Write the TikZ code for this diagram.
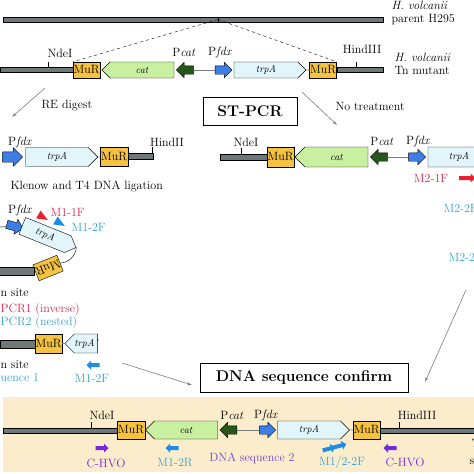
\documentclass[tikz,border=0pt]{standalone}
\usetikzlibrary{shapes,arrows,positioning}
\definecolor{chromgray}{RGB}{110,120,120}
\definecolor{murgold}{RGB}{245,195,65}
\definecolor{catgreen}{RGB}{200,240,160}
\definecolor{trpblue}{RGB}{225,245,250}
\definecolor{pcatgreen}{RGB}{40,85,25}
\definecolor{pfdxblue}{RGB}{60,125,230}
\definecolor{primred}{RGB}{235,30,45}
\definecolor{labred}{RGB}{210,40,80}
\definecolor{primblue}{RGB}{30,140,230}
\definecolor{labblue}{RGB}{50,160,210}
\definecolor{primpurple}{RGB}{120,40,220}
\definecolor{labpurple}{RGB}{120,60,200}
\definecolor{linegray}{RGB}{125,125,125}
\definecolor{panelbeige}{RGB}{251,237,203}
\tikzstyle{chrom} = [rectangle, draw, fill=chromgray, inner sep=0pt, minimum height=5pt]
\tikzstyle{mur} = [rectangle, draw, fill=murgold, inner sep=0pt, minimum width=27pt, minimum height=16pt]
\tikzstyle{gene} = [signal, draw, inner sep=0pt, minimum width=72pt, minimum height=16pt, font=\fontsize{10}{12}\selectfont\itshape]
\tikzstyle{prom} = [single arrow, draw, inner sep=4pt, single arrow head extend=3.5pt, minimum height=17pt]
\tikzstyle{primer} = [single arrow, inner sep=1.8pt, single arrow head extend=2.5pt, minimum height=13pt]
\tikzstyle{wedge} = [isosceles triangle, inner sep=0pt, minimum height=8pt, minimum width=9pt]
\tikzstyle{link} = [draw, linegray, line width=0.9pt]
\tikzstyle{line} = [draw, -latex', linegray, line width=0.6pt]
\tikzstyle{stepbox} = [rectangle, draw, font=\fontsize{15.5}{17}\selectfont\bfseries, inner xsep=8pt, minimum height=28pt]

\begin{document}
\begin{tikzpicture}[x=1pt, y=-1pt, font=\fontsize{12}{13.5}\selectfont]
  \useasboundingbox (0,0) rectangle (474,474);
  % Bottom panel
  \fill [panelbeige] (3,397) rectangle (474,472);
  % Parent chromosome
  \node [chrom, minimum width=380pt] (parent) at (193,19.5) {};
  \coordinate (ins) at (218,19.5);
  \draw (218,17) -- (218,22);
  \node [align=left, anchor=west] (parentlbl) at (388,13) {\textit{H. volcanii}\\parent H295};
  % Tn mutant
  \node [chrom, minimum width=73pt] (bar2l) at (36.5,70) {};
  \node [mur] (mur1) at (86.5,70) {MuR};
  \node [gene, signal to=west, fill=catgreen] (cat1) at (142,70) {cat};
  \node [prom, fill=pcatgreen, shape border rotate=180] (pcat1) at (187,70) {};
  \node [prom, fill=pfdxblue] (pfdx1) at (221.5,70) {};
  \node [gene, fill=trpblue] (trpA1) at (266,70) {trpA};
  \node [mur] (mur2) at (323,70) {MuR};
  \node [chrom, minimum width=46pt] (bar2r) at (360,70) {};
  \node [align=left, anchor=west] (mutlbl) at (391,64) {\textit{H. volcanii}\\Tn mutant};
  \draw (48,67.5) -- (48,62);
  \draw (356,67.5) -- (356,62);
  \node (ndei1) at (60,53) {NdeI};
  \node (pcatl1) at (184,52) {P\textit{cat}};
  \node (pfdxl1) at (220,52) {P\textit{fdx}};
  \node (hind1) at (362,49) {HindIII};
  \path [link] (mur1) -- (cat1);
  \path [link] (pcat1) -- (pfdx1);
  \path [link] (trpA1) -- (mur2);
  \draw [dashed, thin] (ins) -- (mur1.north west);
  \draw [dashed, thin] (ins) -- (mur2.north east);
  % Steps
  \node [stepbox, minimum width=94pt] (stpcr) at (250,111) {ST-PCR};
  \coordinate (re1) at (45,88);
  \coordinate (re2) at (12,117);
  \path [line] (re1) -- (re2);
  \node [anchor=west] (relbl) at (38,106) {RE digest};
  \coordinate (nt1) at (302,92);
  \coordinate (nt2) at (337,125);
  \path [line] (nt1) -- (nt2);
  \node [anchor=west] (ntlbl) at (332,106) {No treatment};
  % RE digest fragment
  \node [prom, fill=pfdxblue, minimum height=20pt, inner sep=5pt, single arrow head extend=4pt] (pfdx2) at (10,157) {};
  \node [gene, fill=trpblue, minimum height=19pt] (trpA2) at (57,157) {trpA};
  \node [mur, minimum width=28pt, minimum height=19pt] (mur3) at (114,157) {MuR};
  \node [chrom, minimum width=25pt, minimum height=6pt] (bar3) at (140.5,156) {};
  \draw (152,153) -- (152,147);
  \node (hind2) at (167,142) {HindII};
  \node (pfdxl2) at (20,142) {P\textit{fdx}};
  \path [link] (trpA2) -- (mur3);
  \node [anchor=west] (klenow) at (7,186) {Klenow and T4 DNA ligation};
  % Circularised fragment
  \coordinate (cut1) at (0,227);
  \node [prom, fill=pfdxblue, rotate=-15] (pfdx4) at (13,226) {};
  \node [gene, fill=trpblue, minimum width=58pt, minimum height=18pt, rotate=-22] (trpA4) at (45,235) {trpA};
  \node [mur, minimum width=26pt, minimum height=17pt, rotate=202] (mur6) at (48,268) {MuR};
  \node [chrom, minimum width=35pt, minimum height=8pt] (bar4) at (17,271) {};
  \path [link] (cut1) -- (pfdx4);
  \draw (trpA4.east) to [bend left=40] (mur6.west);
  \node (pfdxl4) at (20,210) {P\textit{fdx}};
  \node [wedge, fill=primred, rotate=-30] (m11f) at (41,216) {};
  \node [anchor=west, text=labred] (m11fl) at (47,212) {M1-1F};
  \node [wedge, fill=primblue, rotate=-30] (m12f) at (58,222) {};
  \node [anchor=west, text=labblue] (m12fl) at (68,227) {M1-2F};
  \node [anchor=west] (site1) at (-3,293) {n site};
  \node [anchor=west, text=labred] (pcr1) at (-3,310) {PCR1 (inverse)};
  \node [anchor=west, text=labblue] (pcr2) at (-3,323) {PCR2 (nested)};
  % Inverse PCR product
  \node [chrom, minimum width=35pt, minimum height=8pt] (bar5) at (17.5,344) {};
  \node [mur, minimum width=27pt, minimum height=19pt] (mur5) at (48.5,343.5) {MuR};
  \node [gene, signal to=west, fill=trpblue, minimum width=32pt, minimum height=19pt] (trpA5) at (86,343.5) {trpA'};
  \path [link] (mur5) -- (trpA5);
  \node [anchor=west] (site2) at (-3,365) {n site};
  \node [anchor=west, text=labblue] (seq1) at (-3,378) {uence 1};
  \node [primer, fill=primblue, shape border rotate=180] (m12f2) at (94,365) {};
  \node [text=labblue] (m12f2l) at (92,378) {M1-2F};
  \coordinate (sq1) at (122,363);
  \coordinate (sq2) at (192,385);
  \path [line] (sq1) -- (sq2);
  % ST-PCR product
  \node [chrom, minimum width=47pt, minimum height=6pt] (bar6) at (243.5,157) {};
  \node [mur, minimum height=20pt] (mur4) at (280.5,157) {MuR};
  \node [gene, signal to=west, fill=catgreen, minimum width=73pt, minimum height=20pt] (cat2) at (336.5,157) {cat};
  \node [prom, fill=pcatgreen, shape border rotate=180] (pcat2) at (381,157) {};
  \node [prom, fill=pfdxblue] (pfdx3) at (415,157) {};
  \node [gene, fill=trpblue, minimum height=20pt] (trpA3) at (459,157) {trpA};
  \path [link] (mur4) -- (cat2);
  \path [link] (pcat2) -- (pfdx3);
  \draw (241,154) -- (241,148);
  \node (ndei2) at (246,142) {NdeI};
  \node (pcatl2) at (382,141) {P\textit{cat}};
  \node (pfdxl3) at (418,141) {P\textit{fdx}};
  \node [text=labred] (m21fl) at (431,178) {M2-1F};
  \node [primer, fill=primred, minimum height=16pt] (m21f) at (466,178) {};
  \node [anchor=west, text=labblue] (m22fl) at (440,208) {M2-2F};
  \node [anchor=west, text=labblue] (m22rl) at (445,257) {M2-2};
  \coordinate (st1) at (466,290);
  \coordinate (st2) at (425,382);
  \path [line] (st1) -- (st2);
  % Confirmed insertion
  \node [stepbox, minimum width=208pt, minimum height=29pt] (confirm) at (304,377.5) {DNA sequence confirm};
  \node [chrom, minimum width=114pt, minimum height=5.5pt] (bar7l) at (60,430.5) {};
  \node [mur, minimum width=28pt, minimum height=18pt] (mur7) at (131,430) {MuR};
  \node [gene, signal to=west, fill=catgreen, minimum height=18pt] (cat3) at (186,430) {cat};
  \node [prom, fill=pcatgreen, shape border rotate=180] (pcat3) at (230.5,430) {};
  \node [prom, fill=pfdxblue, minimum height=16pt] (pfdx5) at (265.5,430) {};
  \node [gene, fill=trpblue, minimum height=18pt] (trpA6) at (309,430) {trpA};
  \node [mur, minimum height=18pt] (mur8) at (366.5,430) {MuR};
  \node [chrom, minimum width=120pt, minimum height=5.5pt] (bar7r) at (440,430.5) {};
  \path [link] (mur7) -- (cat3);
  \path [link] (pcat3) -- (pfdx5);
  \path [link] (trpA6) -- (mur8);
  \draw (91,428) -- (91,422);
  \draw (399,428) -- (399,422);
  \node (ndei3) at (102,415) {NdeI};
  \node (pcatl3) at (232,415) {P\textit{cat}};
  \node (pfdxl5) at (266,415) {P\textit{fdx}};
  \node (hind3) at (417,415) {HindIII};
  \node [anchor=west] (tn1) at (468,443) {T};
  \node [anchor=west] (tn2) at (466,460) {sh};
  \node [primer, fill=primpurple] (chvo1) at (101,448) {};
  \node [text=primpurple] (chvo1l) at (106,463) {C-HVO};
  \node [primer, fill=primblue, shape border rotate=180] (m12r) at (173,448) {};
  \node [text=labblue] (m12rl) at (175,463) {M1-2R};
  \node [text=labpurple] (seq2) at (252,458) {DNA sequence 2};
  \node [primer, fill=primblue, rotate=15] (m122fa) at (328,449) {};
  \node [primer, fill=primblue, rotate=15] (m122fb) at (339,446) {};
  \node [text=labblue] (m122fl) at (342,462) {M1/2-2F};
  \node [primer, fill=primpurple, shape border rotate=180] (chvo2) at (391,448) {};
  \node [text=primpurple] (chvo2l) at (405,462) {C-HVO};
\end{tikzpicture}
\end{document}
